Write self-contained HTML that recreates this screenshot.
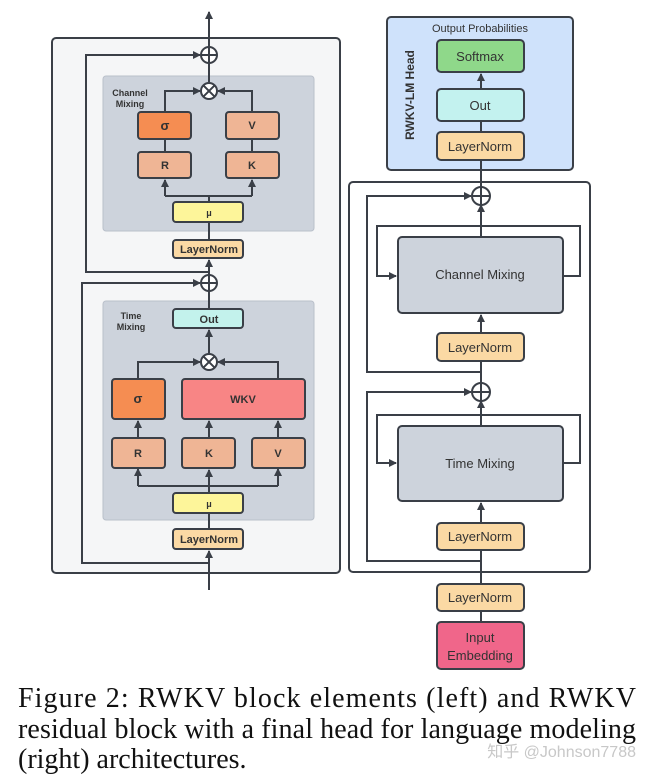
<!DOCTYPE html>
<html><head><meta charset="utf-8"><style>
html,body{margin:0;padding:0;background:#fff;width:653px;height:780px;overflow:hidden}
svg{display:block}
.b{font-family:"Liberation Sans",sans-serif;font-weight:bold;fill:#333;text-anchor:middle}
.n{font-family:"Liberation Sans",sans-serif;fill:#333;text-anchor:middle}
.cap{font-family:"Liberation Serif",serif;font-size:28px;fill:#111}
</style></head><body>
<svg width="653" height="780" viewBox="0 0 653 780" xmlns="http://www.w3.org/2000/svg">
<defs>
<marker id="a" markerWidth="8" markerHeight="8" refX="7" refY="4" orient="auto" markerUnits="userSpaceOnUse"><path d="M0,0 L8,4 L0,8 z" fill="#3a3f47"/></marker>
</defs>
<g stroke="#3a3f47" stroke-width="2" fill="none">
<rect x="52" y="38" width="288" height="535" rx="4" fill="#f5f6f7"/>
<rect x="103" y="76" width="211" height="155" rx="3" fill="#cdd3dc" stroke="#b9c0ca" stroke-width="1"/>
<rect x="103" y="301" width="211" height="219" rx="3" fill="#cdd3dc" stroke="#b9c0ca" stroke-width="1"/>
<line x1="209" y1="590" x2="209" y2="551" marker-end="url(#a)"/>
<line x1="209" y1="529" x2="209" y2="513"/>
<line x1="209" y1="493" x2="209" y2="470" marker-end="url(#a)"/>
<path d="M138,486 H278" />
<line x1="138" y1="486" x2="138" y2="469" marker-end="url(#a)"/>
<line x1="278" y1="486" x2="278" y2="469" marker-end="url(#a)"/>
<line x1="138" y1="438" x2="138" y2="421" marker-end="url(#a)"/>
<line x1="209" y1="438" x2="209" y2="421" marker-end="url(#a)"/>
<line x1="278" y1="438" x2="278" y2="421" marker-end="url(#a)"/>
<path d="M138,379 V362 H200" marker-end="url(#a)"/>
<path d="M278,379 V362 H218" marker-end="url(#a)"/>
<line x1="209" y1="353" x2="209" y2="330" marker-end="url(#a)"/>
<line x1="209" y1="309" x2="209" y2="291"/>
<path d="M209,563 H82 V283 H200" marker-end="url(#a)"/>
<line x1="209" y1="275" x2="209" y2="260" marker-end="url(#a)"/>
<line x1="209" y1="240" x2="209" y2="222"/>
<line x1="209" y1="202" x2="209" y2="196"/>
<path d="M165,196 H252"/>
<line x1="165" y1="196" x2="165" y2="180" marker-end="url(#a)"/>
<line x1="252" y1="196" x2="252" y2="180" marker-end="url(#a)"/>
<line x1="165" y1="152" x2="165" y2="139"/>
<line x1="252" y1="152" x2="252" y2="139"/>
<path d="M165,112 V91 H200" marker-end="url(#a)"/>
<path d="M252,112 V91 H218" marker-end="url(#a)"/>
<line x1="209" y1="82" x2="209" y2="63"/>
<path d="M209,272 H86 V55 H200" marker-end="url(#a)"/>
<line x1="209" y1="47" x2="209" y2="12" marker-end="url(#a)"/>
<circle cx="209" cy="55" r="8" fill="#fff"/><path d="M201,55 H217 M209,47 V63"/>
<circle cx="209" cy="91" r="8" fill="#fff"/><path d="M203.3,85.3 L214.7,96.7 M214.7,85.3 L203.3,96.7"/>
<circle cx="209" cy="283" r="8" fill="#fff"/><path d="M201,283 H217 M209,275 V291"/>
<circle cx="209" cy="362" r="8" fill="#fff"/><path d="M203.3,356.3 L214.7,367.7 M214.7,356.3 L203.3,367.7"/>
<rect x="138" y="112" width="53" height="27" rx="3" fill="#f58d52"/>
<rect x="226" y="112" width="53" height="27" rx="3" fill="#efb595"/>
<rect x="138" y="152" width="53" height="26" rx="3" fill="#efb595"/>
<rect x="226" y="152" width="53" height="26" rx="3" fill="#efb595"/>
<rect x="173" y="202" width="70" height="20" rx="3" fill="#fdf59a"/>
<rect x="173" y="240" width="70" height="18" rx="3" fill="#fbd9a4"/>
<rect x="173" y="309" width="70" height="19" rx="3" fill="#c3f2ec"/>
<rect x="112" y="379" width="53" height="40" rx="3" fill="#f58d52"/>
<rect x="182" y="379" width="123" height="40" rx="3" fill="#f88585"/>
<rect x="112" y="438" width="53" height="30" rx="3" fill="#efb595"/>
<rect x="182" y="438" width="53" height="30" rx="3" fill="#efb595"/>
<rect x="252" y="438" width="53" height="30" rx="3" fill="#efb595"/>
<rect x="173" y="493" width="70" height="20" rx="3" fill="#fdf59a"/>
<rect x="173" y="529" width="70" height="20" rx="3" fill="#fbd9a4"/>
<rect x="387" y="17" width="186" height="153" rx="4" fill="#cfe2fb"/>
<rect x="349" y="182" width="241" height="390" rx="4" fill="#fff"/>
<line x1="481" y1="669" x2="481" y2="611"/>
<line x1="481" y1="584" x2="481" y2="550"/>
<line x1="481" y1="523" x2="481" y2="503" marker-end="url(#a)"/>
<path d="M481,561 H367 V392 H471" marker-end="url(#a)"/>
<path d="M481,426 V415 H377 V463 H396" marker-end="url(#a)"/>
<path d="M481,415 H580 V463 H563"/>
<line x1="481" y1="415" x2="481" y2="401" marker-end="url(#a)"/>
<line x1="481" y1="383" x2="481" y2="361"/>
<line x1="481" y1="333" x2="481" y2="315" marker-end="url(#a)"/>
<path d="M481,372 H367 V196 H471" marker-end="url(#a)"/>
<path d="M481,237 V226 H377 V276 H396" marker-end="url(#a)"/>
<path d="M481,226 H580 V276 H563"/>
<line x1="481" y1="226" x2="481" y2="205" marker-end="url(#a)"/>
<line x1="481" y1="187" x2="481" y2="160"/>
<line x1="481" y1="132" x2="481" y2="121"/>
<line x1="481" y1="89" x2="481" y2="74" marker-end="url(#a)"/>
<circle cx="481" cy="196" r="9" fill="#fff"/><path d="M472,196 H490 M481,187 V205"/>
<circle cx="481" cy="392" r="9" fill="#fff"/><path d="M472,392 H490 M481,383 V401"/>
<rect x="398" y="237" width="165" height="76" rx="4" fill="#cdd3dc"/>
<rect x="398" y="426" width="165" height="75" rx="4" fill="#cdd3dc"/>
<rect x="437" y="40" width="87" height="32" rx="4" fill="#8fd88a"/>
<rect x="437" y="89" width="87" height="32" rx="4" fill="#c3f2ef"/>
<rect x="437" y="132" width="87" height="28" rx="4" fill="#fbd9a4"/>
<rect x="437" y="333" width="87" height="28" rx="4" fill="#fbd9a4"/>
<rect x="437" y="523" width="87" height="27" rx="4" fill="#fbd9a4"/>
<rect x="437" y="584" width="87" height="27" rx="4" fill="#fbd9a4"/>
<rect x="437" y="622" width="87" height="47" rx="4" fill="#f0668a"/>
</g>
<text class="b" x="130" y="96" font-size="9">Channel</text>
<text class="b" x="130" y="107" font-size="9">Mixing</text>
<text class="b" x="165" y="130" font-size="13" fill="#000">σ</text>
<text class="b" x="252" y="129" font-size="11">V</text>
<text class="b" x="165" y="169" font-size="11">R</text>
<text class="b" x="252" y="169" font-size="11">K</text>
<text class="b" x="209" y="216" font-size="9">μ</text>
<text class="b" x="209" y="253" font-size="11">LayerNorm</text>
<text class="b" x="131" y="319" font-size="9">Time</text>
<text class="b" x="131" y="330" font-size="9">Mixing</text>
<text class="b" x="209" y="323" font-size="11">Out</text>
<text class="b" x="138" y="403" font-size="13" fill="#000">σ</text>
<text class="b" x="243" y="403" font-size="11">WKV</text>
<text class="b" x="138" y="457" font-size="11">R</text>
<text class="b" x="209" y="457" font-size="11">K</text>
<text class="b" x="278" y="457" font-size="11">V</text>
<text class="b" x="209" y="507" font-size="9">μ</text>
<text class="b" x="209" y="543" font-size="11">LayerNorm</text>
<text class="n" x="480" y="32" font-size="11">Output Probabilities</text>
<text class="b" font-size="12" transform="translate(414,95) rotate(-90)">RWKV-LM Head</text>
<text class="n" x="480" y="61" font-size="13">Softmax</text>
<text class="n" x="480" y="110" font-size="13">Out</text>
<text class="n" x="480" y="151" font-size="13">LayerNorm</text>
<text class="n" x="480" y="279" font-size="13">Channel Mixing</text>
<text class="n" x="480" y="352" font-size="13">LayerNorm</text>
<text class="n" x="480" y="468" font-size="13">Time Mixing</text>
<text class="n" x="480" y="541" font-size="13">LayerNorm</text>
<text class="n" x="480" y="602" font-size="13">LayerNorm</text>
<text class="n" x="480" y="642" font-size="13">Input</text>
<text class="n" x="480" y="660" font-size="13">Embedding</text>
<text class="cap" x="18" y="707" textLength="618" lengthAdjust="spacing">Figure 2:  RWKV block elements (left) and RWKV</text>
<text class="cap" x="18" y="738" textLength="618" lengthAdjust="spacing">residual block with a final head for language modeling</text>
<text class="cap" x="18" y="768">(right) architectures.</text>
<text x="636" y="757" font-family="Liberation Sans, Noto Sans CJK SC, sans-serif" font-size="16" fill="#c8c8c8" text-anchor="end">知乎 @Johnson7788</text>
</svg>
</body></html>
